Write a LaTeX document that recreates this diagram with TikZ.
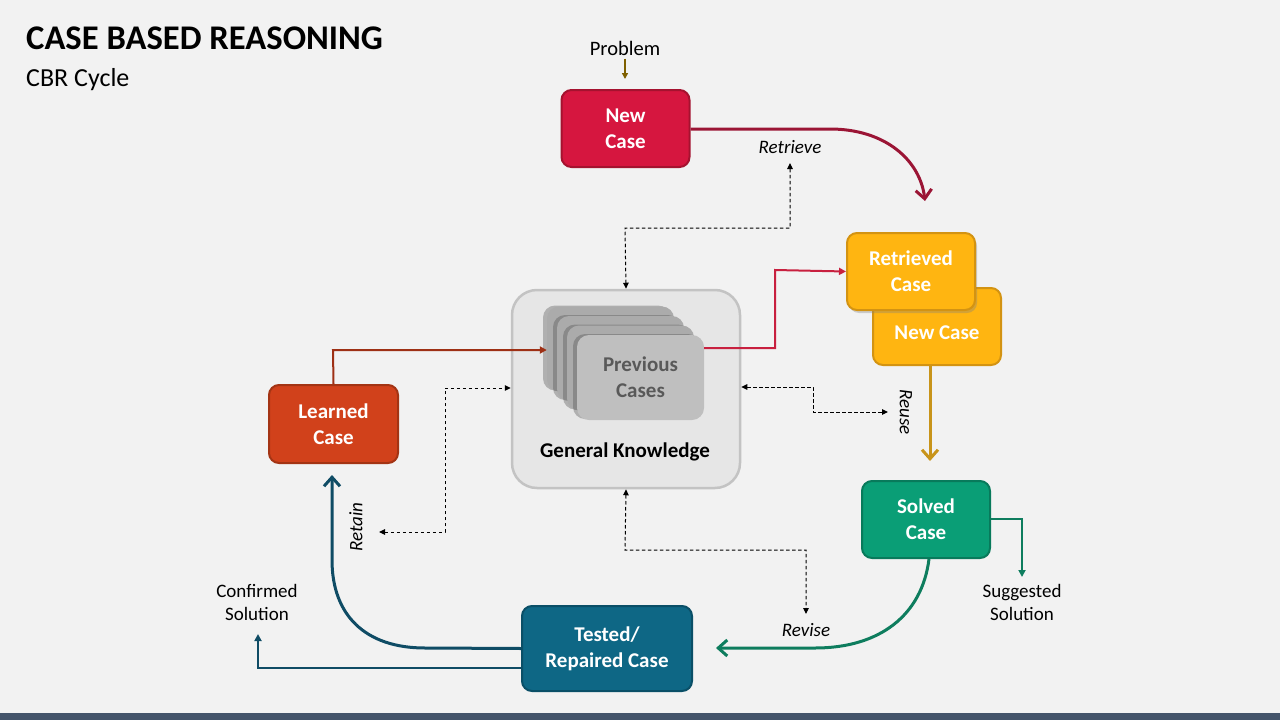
\documentclass[tikz,border=0pt]{standalone}
\usepackage{fontspec}
\setmainfont{Carlito}
\usetikzlibrary{arrows.meta,shadows}
\definecolor{bg}{HTML}{F2F2F2}
\definecolor{barc}{HTML}{44546A}
\definecolor{crimF}{HTML}{D6163F}
\definecolor{crimD}{HTML}{A5122F}
\definecolor{retr}{HTML}{9B1535}
\definecolor{redA}{HTML}{C8203F}
\definecolor{ambF}{HTML}{FFB511}
\definecolor{ambD}{HTML}{D39312}
\definecolor{gold}{HTML}{C8941A}
\definecolor{grnF}{HTML}{0A9E76}
\definecolor{grnD}{HTML}{087A5B}
\definecolor{grnA}{HTML}{0E7D5E}
\definecolor{bluF}{HTML}{0E6785}
\definecolor{bluD}{HTML}{0A4F67}
\definecolor{bluA}{HTML}{0F4C65}
\definecolor{oraF}{HTML}{D1411B}
\definecolor{oraD}{HTML}{A33414}
\definecolor{brn}{HTML}{9E3015}
\definecolor{gkF}{HTML}{E6E6E6}
\definecolor{gkD}{HTML}{C3C3C3}
\definecolor{cardF}{HTML}{BFBFBF}
\definecolor{cardB}{HTML}{ABABAB}
\definecolor{cardT}{HTML}{595959}
\definecolor{prob}{HTML}{7F6000}
\tikzset{
  casebox/.style={rounded corners=10pt, line width=2pt, minimum width=128pt, minimum height=77pt,
    align=center, text=white, font=\fontsize{21}{26}\selectfont\bfseries, inner sep=0pt},
  card/.style={rounded corners=12pt, minimum width=127pt, minimum height=85pt, inner sep=0pt,
    drop shadow={shadow xshift=-4pt, shadow yshift=1pt, opacity=0.35, fill=black!70}},
  mainarrow/.style={line width=3pt, -{Straight Barb[length=9pt,width=16pt,line width=3pt]}},
  thinarrow/.style={line width=2pt, -{Triangle[length=7pt,width=7pt]}},
  dasharrow/.style={line width=1pt, dash pattern=on 3.5pt off 2.5pt, {Triangle[length=6pt,width=5.5pt]}-{Triangle[length=6pt,width=5.5pt]}},
  plain/.style={font=\fontsize{19}{23}\selectfont, align=center, text=black},
  stage/.style={font=\fontsize{19}{22}\selectfont\itshape, text=black}
}
\begin{document}
\begin{tikzpicture}[x=1pt,y=-1pt]
\fill[bg] (0,0) rectangle (1280,720);
\useasboundingbox (0,0) rectangle (1280,720);
\fill[barc] (0,713) rectangle (1280,720);

% titles
\node[anchor=west, inner sep=0pt, font=\fontsize{34.6}{40}\selectfont\bfseries] (title) at (26,38) {CASE BASED REASONING};
\node[anchor=west, inner sep=0pt, font=\fontsize{26}{30}\selectfont] (sub) at (26,80) {CBR Cycle};

% general knowledge
\node[draw=gkD, fill=gkF, line width=2.5pt, rounded corners=25pt, minimum width=228pt, minimum height=198pt] (gk) at (626,389) {};
\foreach \i in {3,2,1}{
  \node[card, fill=cardB] (card\i) at (640.5-10*\i,377.5-9.5*\i) {};
}
\node[card, fill=cardF, text=cardT, align=center, font=\fontsize{21}{26}\selectfont\bfseries] (prev) at (640.5,377.5) {Previous\\Cases};
\node[font=\fontsize{21}{24}\selectfont\bfseries] (gklabel) at (625,452) {General Knowledge};

% case boxes
\node[casebox, fill=crimF, draw=crimD] (newcase) at (625.5,128.5) {New\\Case};
\node[casebox, fill=ambF, draw=ambD] (newcase2) at (937,326.5) {\\New Case};
\node[casebox, fill=ambF, draw=ambD, drop shadow={shadow xshift=2pt, shadow yshift=-3pt, opacity=0.35}] (retrieved) at (911,271.5) {Retrieved\\Case};
\node[casebox, fill=grnF, draw=grnD] (solved) at (926,519.5) {Solved\\Case};
\node[casebox, fill=bluF, draw=bluD, minimum width=170pt, minimum height=85pt] (tested) at (607,648.5) {Tested/\\Repaired Case};
\node[casebox, fill=oraF, draw=oraD, minimum width=129pt, minimum height=78pt] (learned) at (333.5,424) {Learned\\Case};

% outside labels
\node[plain, font=\fontsize{20.5}{24}\selectfont] (problem) at (625,48) {Problem};
\node[plain] (suggested) at (1022,602) {Suggested\\Solution};
\node[plain] (confirmed) at (257,602) {Confirmed\\Solution};
\node[stage] (retrieve) at (790,147) {Retrieve};
\node[stage, rotate=-90] (reuse) at (906,412) {Reuse};
\node[stage] (revise) at (806,630) {Revise};
\node[stage, rotate=90] (retain) at (356,527) {Retain};

% coordinates
\coordinate (retrEnd) at (925,201);
\coordinate (reuseEnd) at (930,461);
\coordinate (reviseEnd) at (716,648);
\coordinate (retainEnd) at (332,475);
\coordinate (sugEnd) at (1022,577);
\coordinate (confEnd) at (258,634);
\coordinate (dRetr) at (790,163);
\coordinate (dReuse) at (888,412);
\coordinate (dRevise) at (806,614);
\coordinate (dRetain) at (379,532);

% main cycle arrows
\draw[retr, mainarrow] (newcase.east |- 0,129) -- (830,129) .. controls (885,129) and (920,160) .. (retrEnd);
\draw[gold, mainarrow] (newcase2.south -| 930,0) -- (reuseEnd);
\draw[grnA, mainarrow] (solved.south -| 929,0) .. controls (922,615) and (880,648) .. (815,648) -- (reviseEnd);
\draw[bluA, mainarrow] (tested.west) -- (425,648) .. controls (365,648) and (332,615) .. (332,560) -- (retainEnd);

% thin arrows
\draw[prob, line width=1.5pt, -{Triangle[length=6pt,width=6pt]}] (problem.south) -- (625,79);
\draw[redA, thinarrow] (prev.east |- 0,348) -- (775,348) -- (775,270) -- (retrieved.west);
\draw[brn, thinarrow] (learned.north) -- (333,350) -- (card3.west |- 0,350);
\draw[grnA, thinarrow] (solved.east |- 0,519) -- (1022,519) -- (sugEnd);
\draw[bluA, thinarrow] (tested.west |- 0,668) -- (258,668) -- (confEnd);

% dashed arrows
\draw[dasharrow] (dRetr) -- (790,228) -- (625,228) -- (gk.north);
\draw[dasharrow] (gk.east |- 0,387) -- (813,387) -- (813,412) -- (dReuse);
\draw[dasharrow] (gk.south) -- (625,550) -- (806,550) -- (dRevise);
\draw[dasharrow] (dRetain) -- (445,532) -- (445,388) -- (gk.west |- 0,388);
\end{tikzpicture}
\end{document}
